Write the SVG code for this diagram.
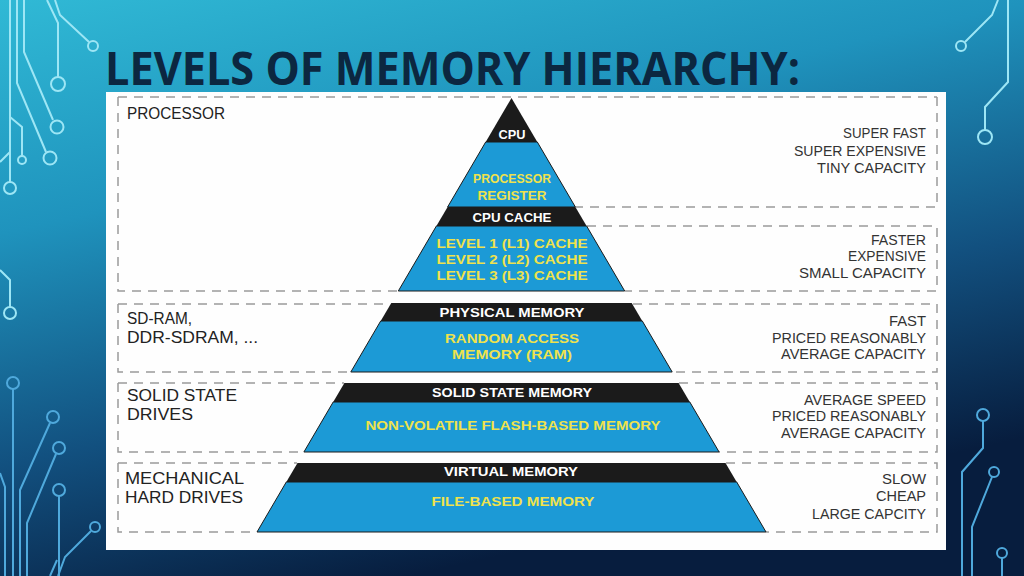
<svg xmlns="http://www.w3.org/2000/svg" width="1024" height="576" viewBox="0 0 1024 576">
<defs>
<linearGradient id="bg" x1="0" y1="0" x2="0.4" y2="1">
<stop offset="0" stop-color="#30b9d5"/>
<stop offset="0.35" stop-color="#1f93bd"/>
<stop offset="0.7" stop-color="#12507f"/>
<stop offset="1" stop-color="#071d3e"/>
</linearGradient>
<style>
.ct{fill:none;stroke:#9de6f5;stroke-width:2}
.cb{fill:none;stroke:#4fa9dc;stroke-width:2}
.dash{fill:none;stroke:#9a9a9a;stroke-width:1.5;stroke-dasharray:9 7}
.blk{fill:#1b1b1b}
.blu{fill:#1c9ad6;stroke:#1b1b1b;stroke-width:1}
.wt{font-family:"Liberation Sans",Arial,sans-serif;font-size:13px;font-weight:bold;fill:#ffffff;text-anchor:middle}
.yt{font-family:"Liberation Sans",Arial,sans-serif;font-size:13px;font-weight:bold;fill:#efe24c;text-anchor:middle}
.lt{font-family:"Liberation Sans",Arial,sans-serif;font-size:16px;fill:#222222}
.rt{font-family:"Liberation Sans",Arial,sans-serif;font-size:14px;fill:#333333;text-anchor:end}
</style>
</defs>
<rect x="0" y="0" width="1024" height="576" fill="url(#bg)"/>
<g id="circuits">
<path class="ct" d="M10,0 V182 M10,152 L0,162 M10,117 L22,127 V156 M17,0 V83 L46,152 M24,0 V52 L53,120 M47,0 L58,23 V77 M55,0 L60,15 L89,42 M0,270 L10,280 V307"/>
<circle class="ct" cx="10" cy="188" r="6"/>
<circle class="ct" cx="22" cy="160" r="4"/>
<circle class="ct" cx="50" cy="158" r="6.5"/>
<circle class="ct" cx="57" cy="127" r="6.5"/>
<circle class="ct" cx="58" cy="84" r="7"/>
<circle class="ct" cx="93" cy="46" r="5"/>
<circle class="ct" cx="10" cy="313" r="6"/>
<path class="cb" d="M13,389 V576 M50,423 L20,490 V576 M56,454 L27,523 V576 M59,496 V576 M91,531 L65,557 L58,576 M50,576 L57,560 M0,473 L5,487 V576"/>
<circle class="cb" cx="13" cy="383" r="6"/>
<circle class="cb" cx="53" cy="417" r="6"/>
<circle class="cb" cx="59" cy="448" r="6"/>
<circle class="cb" cx="59" cy="490" r="6"/>
<circle class="cb" cx="95" cy="527" r="5"/>
<path class="ct" d="M998,0 L992,15 L965,42 M1008,0 V82 L985,107 V130"/>
<circle class="ct" cx="961" cy="46" r="5"/>
<circle class="ct" cx="985" cy="137" r="7"/>
<path class="cb" d="M983,421 V448 L962,472 V576 M992,477 L972,527 V576 M1002,558 V576"/>
<circle class="cb" cx="983" cy="415" r="6"/>
<circle class="cb" cx="994" cy="472" r="5"/>
<circle class="cb" cx="1002" cy="553" r="5"/>
</g>
<text id="title" x="105" y="85" font-family="'Open Sans','Liberation Sans',sans-serif" font-weight="bold" font-size="46" fill="#0c2740" textLength="695" lengthAdjust="spacingAndGlyphs">LEVELS OF MEMORY HIERARCHY:</text>
<rect id="panel" x="106" y="92" width="840" height="458" fill="#fefefe"/>
<g id="bands">
<path class="dash" d="M118,97 H937 M118,97 V291 H398 M937,97 V207 H576 M587,226 H937 V291 H625"/>
<path class="dash" d="M118,304 H390 M633,304 H937 V372 H672 M118,304 V372 H351"/>
<path class="dash" d="M118,383 H344 M679,383 H937 V452 H719 M118,383 V452 H304"/>
<path class="dash" d="M118,463 H297 M726,463 H937 V532 H766 M118,463 V532 H257"/>
</g>
<g id="level-cpu">
<polygon class="blk" points="511.5,98 537.3,142 485.7,142"/>
<text class="wt" x="512" y="139" textLength="27" lengthAdjust="spacingAndGlyphs">CPU</text>
<polygon class="blu" points="485.7,142 537.3,142 575.4,207 447.6,207"/>
<text class="yt" x="512" y="183" textLength="78" lengthAdjust="spacingAndGlyphs">PROCESSOR</text>
<text class="yt" x="512" y="200" textLength="69" lengthAdjust="spacingAndGlyphs">REGISTER</text>
<text class="lt" x="127" y="119" textLength="98" lengthAdjust="spacingAndGlyphs">PROCESSOR</text>
<text class="rt" x="926" y="138" textLength="83" lengthAdjust="spacingAndGlyphs">SUPER FAST</text>
<text class="rt" x="926" y="156" textLength="132" lengthAdjust="spacingAndGlyphs">SUPER EXPENSIVE</text>
<text class="rt" x="926" y="173" textLength="109" lengthAdjust="spacingAndGlyphs">TINY CAPACITY</text>
</g>
<g id="level-cache">
<polygon class="blk" points="447.6,207 575.4,207 586.6,226 436.4,226"/>
<text class="wt" x="512" y="222" textLength="79" lengthAdjust="spacingAndGlyphs">CPU CACHE</text>
<polygon class="blu" points="436.4,226 586.6,226 624.7,291 398.3,291"/>
<text class="yt" x="512" y="248" textLength="151" lengthAdjust="spacingAndGlyphs">LEVEL 1 (L1) CACHE</text>
<text class="yt" x="512" y="264" textLength="151" lengthAdjust="spacingAndGlyphs">LEVEL 2 (L2) CACHE</text>
<text class="yt" x="512" y="280" textLength="151" lengthAdjust="spacingAndGlyphs">LEVEL 3 (L3) CACHE</text>
<text class="rt" x="926" y="245" textLength="55" lengthAdjust="spacingAndGlyphs">FASTER</text>
<text class="rt" x="926" y="261" textLength="78" lengthAdjust="spacingAndGlyphs">EXPENSIVE</text>
<text class="rt" x="926" y="278" textLength="127" lengthAdjust="spacingAndGlyphs">SMALL CAPACITY</text>
</g>
<g id="level-ram">
<polygon class="blk" points="391.3,303 631.7,303 642.3,321 380.7,321"/>
<text class="wt" x="512" y="317" textLength="145" lengthAdjust="spacingAndGlyphs">PHYSICAL MEMORY</text>
<polygon class="blu" points="380.7,321 642.3,321 672.2,372 350.8,372"/>
<text class="yt" x="512" y="343" textLength="134" lengthAdjust="spacingAndGlyphs">RANDOM ACCESS</text>
<text class="yt" x="512" y="359" textLength="120" lengthAdjust="spacingAndGlyphs">MEMORY (RAM)</text>
<text class="lt" x="127" y="324" textLength="65" lengthAdjust="spacingAndGlyphs">SD-RAM,</text>
<text class="lt" x="127" y="343" textLength="131" lengthAdjust="spacingAndGlyphs">DDR-SDRAM, ...</text>
<text class="rt" x="926" y="326" textLength="37" lengthAdjust="spacingAndGlyphs">FAST</text>
<text class="rt" x="926" y="343" textLength="154" lengthAdjust="spacingAndGlyphs">PRICED REASONABLY</text>
<text class="rt" x="926" y="359" textLength="145" lengthAdjust="spacingAndGlyphs">AVERAGE CAPACITY</text>
</g>
<g id="level-ssd">
<polygon class="blk" points="344.4,383 678.6,383 689.8,402 333.2,402"/>
<text class="wt" x="512" y="397" textLength="160" lengthAdjust="spacingAndGlyphs">SOLID STATE MEMORY</text>
<polygon class="blu" points="333.2,402 689.8,402 719.1,452 303.9,452"/>
<text class="yt" x="513" y="430" textLength="295" lengthAdjust="spacingAndGlyphs">NON-VOLATILE FLASH-BASED MEMORY</text>
<text class="lt" x="127" y="401" textLength="110" lengthAdjust="spacingAndGlyphs">SOLID STATE</text>
<text class="lt" x="127" y="420" textLength="66" lengthAdjust="spacingAndGlyphs">DRIVES</text>
<text class="rt" x="926" y="405" textLength="122" lengthAdjust="spacingAndGlyphs">AVERAGE SPEED</text>
<text class="rt" x="926" y="421" textLength="154" lengthAdjust="spacingAndGlyphs">PRICED REASONABLY</text>
<text class="rt" x="926" y="438" textLength="145" lengthAdjust="spacingAndGlyphs">AVERAGE CAPACITY</text>
</g>
<g id="level-hdd">
<polygon class="blk" points="297.5,463 725.5,463 736.7,482 286.3,482"/>
<text class="wt" x="511" y="476" textLength="134" lengthAdjust="spacingAndGlyphs">VIRTUAL MEMORY</text>
<polygon class="blu" points="286.3,482 736.7,482 766,532 257,532"/>
<text class="yt" x="513" y="506" textLength="163" lengthAdjust="spacingAndGlyphs">FILE-BASED MEMORY</text>
<text class="lt" x="125" y="484" textLength="119" lengthAdjust="spacingAndGlyphs">MECHANICAL</text>
<text class="lt" x="125" y="503" textLength="118" lengthAdjust="spacingAndGlyphs">HARD DRIVES</text>
<text class="rt" x="926" y="484" textLength="44" lengthAdjust="spacingAndGlyphs">SLOW</text>
<text class="rt" x="926" y="501" textLength="50" lengthAdjust="spacingAndGlyphs">CHEAP</text>
<text class="rt" x="926" y="519" textLength="114" lengthAdjust="spacingAndGlyphs">LARGE CAPCITY</text>
</g>
</svg>
